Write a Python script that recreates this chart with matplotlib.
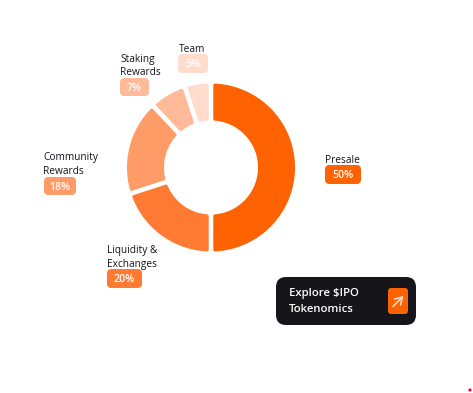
import numpy as np
import matplotlib
matplotlib.use("Agg")
import matplotlib.pyplot as plt
from matplotlib.patches import FancyBboxPatch, Circle
from matplotlib.path import Path

categories = ["Presale", "Liquidity &\nExchanges", "Community\nRewards", "Staking\nRewards", "Team"]
shares = [50, 20, 18, 7, 5]
colors = ["#FF6200", "#FF7A33", "#FF9B66", "#FFBA99", "#FFDCCC"]
badge_texts = ["50%", "20%", "18%", "7%", "5%"]

W, H = 473, 393
plt.rcParams["font.family"] = ["Open Sans", "DejaVu Sans"]
fig = plt.figure(figsize=(W / 100, H / 100), dpi=100, facecolor="white")
ax = fig.add_axes([0, 0, 1, 1])

def Y(y):
    return H - y

CX, CY = 211, Y(167.5)
R, r = 84, 47
corner = 1.5   # rounded-corner radius, px
half_gap = 2.3
wedges, _ = ax.pie(shares, colors=colors, startangle=90, counterclock=False,
                   center=(CX, CY), radius=R)

def gap_outline(t1, t2):
    """Ring sector between angles t1..t2 (deg) with parallel-sided gaps."""
    d = half_gap + corner
    ro, ri = R - corner, r + corner
    ao1, ao2 = t1 + np.degrees(np.arcsin(d / ro)), t2 - np.degrees(np.arcsin(d / ro))
    ai1, ai2 = t1 + np.degrees(np.arcsin(d / ri)), t2 - np.degrees(np.arcsin(d / ri))
    outer = np.radians(np.linspace(ao1, ao2, 120))
    inner = np.radians(np.linspace(ai2, ai1, 120))
    xs = np.r_[CX + ro * np.cos(outer), CX + ri * np.cos(inner)]
    ys = np.r_[CY + ro * np.sin(outer), CY + ri * np.sin(inner)]
    return Path(np.c_[np.r_[xs, xs[0]], np.r_[ys, ys[0]]], closed=True)

for w in wedges:
    w._path = gap_outline(w.theta1, w.theta2)
    w.set_edgecolor(w.get_facecolor())
    w.set_linewidth(2 * corner * 0.72)
    w.set_joinstyle("round")

ax.set_xlim(0, W)
ax.set_ylim(0, H)
ax.set_aspect("equal")
ax.axis("off")

# x, label baselines, badge (x0, y0, x1, y1)
layout = [
    (325, [163], (325, 165, 361, 184)),
    (107.2, [253, 267], (107, 269, 142, 288)),
    (43.2, [160, 174], (44, 177, 76, 195)),
    (120.2, [62, 75], (120, 78, 149, 96)),
    (179, [52], (178, 54, 208, 73)),
]
def rbox(x0, y0, x1, y1, rad, fc):
    ax.add_patch(FancyBboxPatch((x0 + rad, Y(y1) + rad), x1 - x0 - 2 * rad, y1 - y0 - 2 * rad,
                                boxstyle=f"round,pad={rad},rounding_size={rad}", fc=fc, ec="none"))

for cat, col, txt, (x, ys, b) in zip(categories, colors, badge_texts, layout):
    for line, yy in zip(cat.split("\n"), ys):
        ax.text(x, Y(yy), line, fontsize=7.3, color="#14141c", ha="left", va="baseline", weight="medium")
    rbox(*b, 4.5, col)
    ax.text((b[0] + b[2]) / 2, Y((b[1] + b[3]) / 2 + 3.6), txt, fontsize=7.6, color="white",
            ha="center", va="baseline", weight="semibold")

rbox(276, 277, 416, 325, 10, "#15151A")
ax.text(289, Y(296), "Explore $IPO", fontsize=8.2, color="white", va="baseline", weight="semibold")
ax.text(289, Y(312), "Tokenomics", fontsize=8.2, color="white", va="baseline", weight="semibold")
rbox(388, 288, 408, 314, 3, "#FF6200")
ax.annotate("", xy=(403.5, Y(296)), xytext=(393, Y(306.5)),
            arrowprops=dict(arrowstyle="->,head_length=0.5,head_width=0.3", color="#FFE3D3", lw=1.1,
                            shrinkA=0, shrinkB=0))
ax.add_patch(Circle((470, Y(390)), 1.6, fc="#E8112D", ec="none"))

fig.savefig("out.png", dpi=100, facecolor="white")
